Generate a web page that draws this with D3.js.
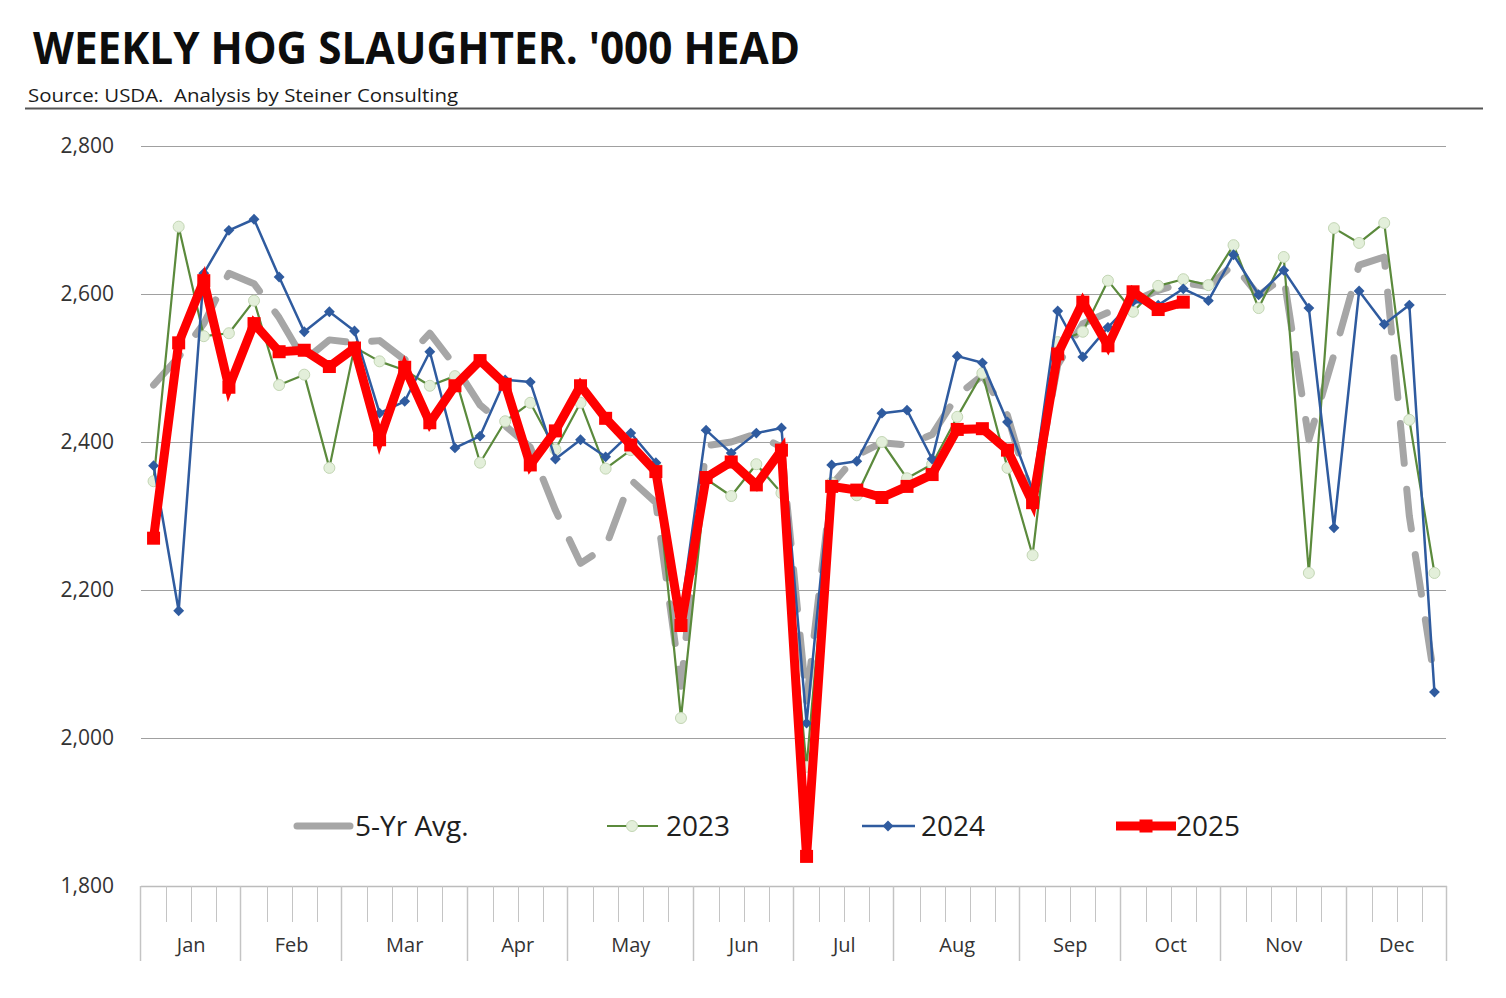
<!DOCTYPE html>
<html>
<head>
<meta charset="utf-8">
<script src="https://cdn.jsdelivr.net/npm/d3@7"></script>
<style>
  html, body { margin: 0; padding: 0; background: #fff; }
  svg { display: block; }
  text { font-family: "Open Sans", "Lato", sans-serif; }
</style>
</head>
<body>
<svg id="chart" width="1506" height="998"></svg>
<script>
// ---------- data ----------
const months = ["Jan","Feb","Mar","Apr","May","Jun","Jul","Aug","Sep","Oct","Nov","Dec"];
const monthWeeks = [4,4,5,4,5,4,4,5,4,4,5,4];
const yTicks = [1800, 2000, 2200, 2400, 2600, 2800];

const avg5 = [2477,2515,2560,2628,2614,2568,2510,2538,2534,2537,2511,2547,2503,2450,2422,2393,2308,2236,2258,2349,2318,2070,2395,2400,2411,2393,2050,2342,2382,2399,2396,2410,2463,2490,2436,2320,2504,2560,2575,2590,2605,2615,2610,2640,2598,2623,2403,2518,2639,2650,2300,2080];
const y2023 = [2347,2691,2543,2547,2591,2477,2491,2365,2528,2509,2497,2476,2489,2372,2428,2453,2390,2453,2364,2389,2367,2027,2350,2327,2370,2331,1961,2345,2328,2400,2351,2370,2434,2493,2365,2247,2535,2549,2618,2576,2611,2620,2612,2666,2581,2650,2223,2689,2669,2696,2430,2223];
const y2024 = [2368,2172,2628,2686,2701,2623,2549,2576,2550,2439,2455,2522,2392,2408,2484,2481,2377,2403,2380,2412,2372,2170,2416,2385,2412,2419,2020,2369,2374,2439,2443,2377,2516,2507,2427,2335,2577,2515,2555,2590,2585,2607,2591,2653,2599,2632,2581,2284,2604,2559,2585,2062];
const y2025 = [2270,2534,2618,2474,2560,2522,2524,2502,2527,2403,2501,2426,2476,2510,2478,2369,2415,2476,2432,2396,2360,2152,2352,2373,2342,2389,1840,2340,2335,2325,2340,2356,2417,2418,2389,2318,2519,2589,2530,2603,2579,2589];

const seriesNames = ["5-Yr Avg.", "2023", "2024", "2025"];

(function () {
// ---------- layout ----------
const svg = d3.select("#chart");
const pLeft = 141, pRight = 1447, pTop = 146, pBottom = 886;
const nWeeks = 52;

const x = d3.scaleBand().domain(d3.range(nWeeks)).range([pLeft, pRight]).padding(0);
const cx = i => x(i) + x.bandwidth() / 2;
const y = d3.scaleLinear().domain([1800, 2800]).range([pBottom, pTop]);

const colors = { avg: "#a6a6a6", g: "#5b8a3c", b: "#2f5b9f", r: "#ff0000" };

// ---------- title ----------
svg.append("text").attr("x", 33).attr("y", 64)
  .attr("font-size", 45).attr("font-weight", 700).attr("fill", "#0d0d0d")
  .attr("textLength", 767).attr("lengthAdjust", "spacingAndGlyphs")
  .text("WEEKLY HOG SLAUGHTER. '000 HEAD");
svg.append("text").attr("x", 28).attr("y", 102)
  .attr("font-size", 19).attr("fill", "#1a1a1a")
  .attr("textLength", 430).attr("lengthAdjust", "spacingAndGlyphs")
  .style("white-space", "pre")
  .text("Source: USDA.  Analysis by Steiner Consulting");
svg.append("line").attr("x1", 25).attr("x2", 1483).attr("y1", 108.5).attr("y2", 108.5)
  .attr("stroke", "#555").attr("stroke-width", 2);

// ---------- grid ----------
const grid = svg.append("g");
grid.selectAll("line").data(yTicks.filter(t => t > 1800)).join("line")
  .attr("x1", pLeft).attr("x2", pRight - 1)
  .attr("y1", d => Math.round(y(d)) + 0.5).attr("y2", d => Math.round(y(d)) + 0.5)
  .attr("stroke", "#a0a0a0").attr("stroke-width", 1);

// y axis labels
const yAxis = d3.axisLeft(y).tickValues(yTicks).tickFormat(d3.format(",")).tickSize(0).tickPadding(0);
const yg = svg.append("g").attr("transform", `translate(114,0)`).call(yAxis);
yg.select(".domain").remove();
yg.selectAll("text").attr("font-size", 21).attr("fill", "#333")
  .attr("font-family", "'Open Sans', sans-serif");

// ---------- x axis ----------
const xg = svg.append("g");
xg.append("line").attr("x1", pLeft).attr("x2", pRight).attr("y1", pBottom + 0.5).attr("y2", pBottom + 0.5)
  .attr("stroke", "#bcbcbc").attr("stroke-width", 1.5);
const bounds = [0];
monthWeeks.forEach((w, i) => bounds.push(bounds[i] + w));
const boundSet = new Set(bounds);
const minorIdx = d3.range(1, nWeeks).filter(i => !boundSet.has(i));
const bx = i => (i === nWeeks ? pRight : x(i));
xg.selectAll("line.minor").data(minorIdx).join("line").attr("class", "minor")
  .attr("x1", i => Math.round(bx(i)) + 0.5).attr("x2", i => Math.round(bx(i)) + 0.5)
  .attr("y1", pBottom).attr("y2", pBottom + 36)
  .attr("stroke", "#c4c4c4").attr("stroke-width", 1);
xg.selectAll("line.major").data(bounds).join("line").attr("class", "major")
  .attr("x1", i => Math.round(bx(i)) - 0.5).attr("x2", i => Math.round(bx(i)) - 0.5)
  .attr("y1", pBottom).attr("y2", pBottom + 75)
  .attr("stroke", "#c4c4c4").attr("stroke-width", 1.5);
xg.selectAll("text").data(months).join("text")
  .attr("x", (m, i) => (bx(bounds[i]) + bx(bounds[i + 1])) / 2)
  .attr("y", 952).attr("text-anchor", "middle")
  .attr("font-size", 20).attr("fill", "#333")
  .text(d => d);

// ---------- series ----------
const line = d3.line().x((d, i) => cx(i)).y(d => y(d));

svg.append("path").datum(avg5).attr("d", line)
  .attr("fill", "none").attr("stroke", colors.avg).attr("stroke-width", 7)
  .attr("stroke-dasharray", "40 26").attr("stroke-linecap", "round").attr("stroke-linejoin", "round");

svg.append("path").datum(y2023).attr("d", line)
  .attr("fill", "none").attr("stroke", colors.g).attr("stroke-width", 2.2).attr("stroke-linejoin", "round");
svg.append("g").selectAll("circle").data(y2023).join("circle")
  .attr("cx", (d, i) => cx(i)).attr("cy", d => y(d)).attr("r", 5.5)
  .attr("fill", "#e3efda").attr("stroke", "#c3d6b4").attr("stroke-width", 1);

svg.append("path").datum(y2024).attr("d", line)
  .attr("fill", "none").attr("stroke", colors.b).attr("stroke-width", 2.5).attr("stroke-linejoin", "round");
const diamond = d3.symbol().type(d3.symbolDiamond2).size(75);
svg.append("g").selectAll("path").data(y2024).join("path")
  .attr("d", diamond)
  .attr("transform", (d, i) => `translate(${cx(i)},${y(d)})`)
  .attr("fill", colors.b);

svg.append("path").datum(y2025).attr("d", line)
  .attr("fill", "none").attr("stroke", colors.r).attr("stroke-width", 9).attr("stroke-linejoin", "miter");
svg.append("g").selectAll("rect").data(y2025).join("rect")
  .attr("x", (d, i) => cx(i) - 6.5).attr("y", d => y(d) - 6.5)
  .attr("width", 13).attr("height", 13).attr("fill", colors.r);

// ---------- legend ----------
const ly = 826;
const leg = svg.append("g");
leg.append("line").attr("x1", 297).attr("x2", 350).attr("y1", ly).attr("y2", ly)
  .attr("stroke", colors.avg).attr("stroke-width", 7).attr("stroke-linecap", "round");
leg.append("line").attr("x1", 607).attr("x2", 658).attr("y1", ly).attr("y2", ly)
  .attr("stroke", colors.g).attr("stroke-width", 2.2);
leg.append("circle").attr("cx", 632).attr("cy", ly).attr("r", 5.5)
  .attr("fill", "#e3efda").attr("stroke", "#c3d6b4");
leg.append("line").attr("x1", 862).attr("x2", 915).attr("y1", ly).attr("y2", ly)
  .attr("stroke", colors.b).attr("stroke-width", 2.5);
leg.append("path").attr("d", diamond).attr("transform", `translate(888,${ly})`).attr("fill", colors.b);
leg.append("line").attr("x1", 1116).attr("x2", 1176).attr("y1", ly).attr("y2", ly)
  .attr("stroke", colors.r).attr("stroke-width", 9);
leg.append("rect").attr("x", 1139.5).attr("y", ly - 6.5).attr("width", 13).attr("height", 13).attr("fill", colors.r);

const legText = [[355, seriesNames[0]], [666, seriesNames[1]], [921, seriesNames[2]], [1176, seriesNames[3]]];
leg.selectAll("text").data(legText).join("text")
  .attr("x", d => d[0]).attr("y", ly + 10)
  .attr("font-size", 28).attr("fill", "#1f1f1f")
  .text(d => d[1]);
})();
</script>
</body>
</html>
